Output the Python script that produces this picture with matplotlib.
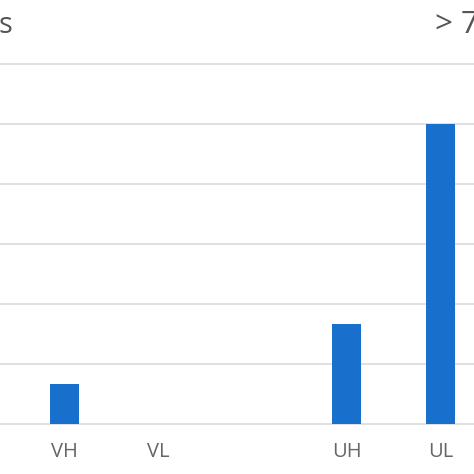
import matplotlib
matplotlib.use("Agg")
import matplotlib.pyplot as plt

categories = ["VH", "VL", "", "UH", "UL"]
values = [2, 0, 0, 5, 15]
y_ticks = [0, 3, 6, 9, 12, 15, 18]
title_left = "s"
title_right = "> 7"

W = H = 474
fig = plt.figure(figsize=(W / 100, H / 100), dpi=100)
bottom = (H - 423.5) / H
top = (H - 64) / H
ax = fig.add_axes([0, bottom, 1, top - bottom])

x = list(range(len(categories)))
ax.bar(x, values, width=0.315, color="#1870CC", zorder=3)

ax.set_xlim((0 - 64.5) / 94, (W - 64.5) / 94)
ax.set_ylim(0, 18)
ax.set_yticks(y_ticks)
ax.yaxis.grid(True, color="#e0e0e0", linewidth=1.4, zorder=0)
for gl in ax.get_ygridlines():
    gl.set_clip_on(False)
ax.tick_params(axis="y", length=0, labelleft=False)
ax.set_xticks(x)
ax.set_xticklabels(categories, fontfamily="Open Sans", fontsize=14.5, color="#666666")
ax.tick_params(axis="x", length=0, pad=13)
for s in ax.spines.values():
    s.set_visible(False)

fig.text(-1.5 / W, (H - 33) / H, title_left, fontfamily="Open Sans", fontsize=21,
         color="#555555", ha="left", va="baseline")
fig.text(435 / W, (H - 33) / H, title_right, fontfamily="Open Sans", fontsize=22.5,
         color="#555555", ha="left", va="baseline")

fig.savefig("out.png", dpi=100)
